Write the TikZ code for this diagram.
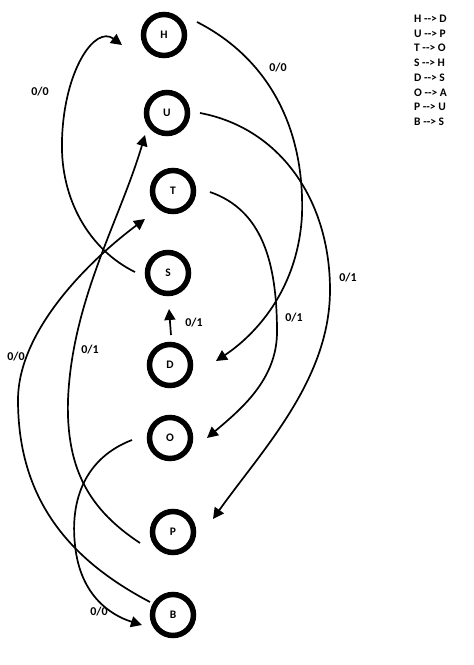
\documentclass[tikz,border=0pt]{standalone}
\usepackage{fontspec}
\setmainfont{Carlito}
\usetikzlibrary{arrows.meta, positioning, calc}

\begin{document}
\begin{tikzpicture}[
    x=1pt, y=-1pt,
    state/.style={circle, draw, line width=5.5pt, minimum size=41pt, inner sep=0pt,
        font=\fontsize{11.5}{13}\selectfont\bfseries},
    io/.style={font=\fontsize{12}{14}\selectfont\bfseries},
    key/.style={anchor=base west, inner sep=0pt, font=\fontsize{11.5}{13}\selectfont\bfseries},
    arrow/.style={-{Triangle[length=11pt, width=11pt]}, line width=1.7pt}
]

    % Page frame
    \useasboundingbox (0,0) rectangle (474,665);

    % --- States ---
    \node[state] (H) at (164,35)  {H};
    \node[state] (U) at (167,113) {U};
    \node[state] (T) at (173,191) {T};
    \node[state] (S) at (168,273) {S};
    \node[state] (D) at (170,365) {D};
    \node[state] (O) at (170,438) {O};
    \node[state] (P) at (173,532) {P};
    \node[state] (B) at (173,615) {B};

    % --- Right side transitions ---

    % H to D
    \draw [arrow] ($(H)+(33,-13)$) .. controls (262,55) and (305,120) .. (302,215)
        .. controls (298,290) and (255,335) .. ($(D)+(46,-4)$);
    \node[io] (lHD) at (278,68) {0/0};

    % U to P
    \draw [arrow] ($(U)+(33,0)$) .. controls (280,128) and (330,200) .. (330,290)
        .. controls (330,380) and (262,450) .. ($(P)+(40,-13)$);
    \node[io] (lUP) at (348,278) {0/1};

    % T to O
    \draw [arrow] ($(T)+(37,1)$) .. controls (262,210) and (277,262) .. (277,332)
        .. controls (277,380) and (240,410) .. ($(O)+(37,0)$);
    \node[io] (lTO) at (294,318) {0/1};

    % D to S
    \draw [arrow] ($(D)+(1,-30)$) -- ($(S)+(1,36)$);
    \node[io] (lDS) at (194,323) {0/1};

    % --- Left side transitions ---

    % S to H
    \draw [arrow] ($(S)+(-33,-1)$) .. controls (90,250) and (60,200) .. (62,140)
        .. controls (64,70) and (95,25) .. ($(H)+(-42,10)$);
    \node[io] (lSH) at (40,92) {0/0};

    % O to B
    \draw [arrow] ($(O)+(-38,2)$) .. controls (85,458) and (70,500) .. (75,545)
        .. controls (80,595) and (110,615) .. ($(B)+(-31,10)$);
    \node[io] (lOB) at (99,612) {0/0};

    % P to U
    \draw [arrow] ($(P)+(-33,11)$) .. controls (90,510) and (66,470) .. (68,400)
        .. controls (72,300) and (120,220) .. ($(U)+(-22,22)$);
    \node[io] (lPU) at (90,350) {0/1};

    % B to T
    \draw [arrow] ($(B)+(-23,-13)$) .. controls (70,560) and (18,500) .. (18,400)
        .. controls (18,330) and (90,260) .. ($(T)+(-28,28)$);
    \node[io] (lBT) at (16,357) {0/0};

    % --- Key ---
    \node[key] (k1) at (414,22.5)  {H -{}-> D};
    \node[key] (k2) at (414,37.2)  {U -{}-> P};
    \node[key] (k3) at (414,51.9)  {T -{}-> O};
    \node[key] (k4) at (414,66.6)  {S -{}-> H};
    \node[key] (k5) at (414,81.3)  {D -{}-> S};
    \node[key] (k6) at (414,96.0)  {O -{}-> A};
    \node[key] (k7) at (414,110.7) {P -{}-> U};
    \node[key] (k8) at (414,125.4) {B -{}-> S};

\end{tikzpicture}
\end{document}
